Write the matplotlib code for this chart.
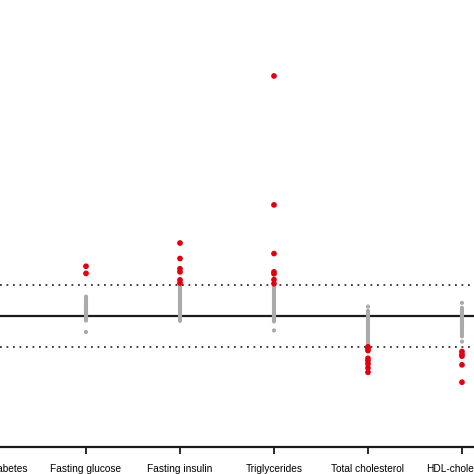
import matplotlib
matplotlib.use("Agg")
import matplotlib.pyplot as plt

plt.rcParams['font.family'] = ['Liberation Sans', 'DejaVu Sans']

# --- data (z-like units: 0 = reference, +/-1 = limits) ---
categories = ["Type 2 diabetes", "Fasting glucose", "Fasting insulin",
              "Triglycerides", "Total cholesterol", "HDL-cholesterol"]

glucose_grey = [0.62, 0.59, 0.55, 0.53, 0.49, 0.45, 0.43, 0.40, 0.36, 0.33, 0.31,
                0.27, 0.24, 0.22, 0.18, 0.15, 0.12, 0.10, 0.06, 0.03, 0.01,
                -0.03, -0.06, -0.09, -0.12, -0.15, -0.52]
glucose_red = [1.60, 1.37]

insulin_grey = [1.00, 0.96, 0.92, 0.88, 0.85, 0.81, 0.77, 0.73, 0.70, 0.66, 0.62,
                0.58, 0.55, 0.51, 0.47, 0.43, 0.40, 0.36, 0.32, 0.28, 0.25,
                0.21, 0.17, 0.13, 0.10, 0.06, 0.02, -0.02, -0.06, -0.10, -0.16]
insulin_red = [2.35, 1.85, 1.52, 1.42, 1.16, 1.06]

trig_grey = [0.94, 0.90, 0.86, 0.82, 0.78, 0.74, 0.70, 0.66, 0.62, 0.58, 0.54,
             0.50, 0.46, 0.42, 0.38, 0.34, 0.30, 0.26, 0.22, 0.18, 0.14,
             0.10, 0.06, 0.02, -0.02, -0.06, -0.10, -0.14, -0.18, -0.47]
trig_red = [7.74, 3.58, 2.01, 1.42, 1.36, 1.17, 1.04]

chol_grey = [0.30, 0.16, 0.12, 0.08, 0.04, 0.00, -0.04, -0.08, -0.12, -0.16,
             -0.20, -0.24, -0.28, -0.32, -0.36, -0.40, -0.44, -0.48, -0.52,
             -0.56, -0.60, -0.64, -0.68, -0.72, -0.76, -0.80, -0.85, -0.90, -0.94]
chol_red = [-1.00, -1.06, -1.12, -1.37, -1.45, -1.55, -1.68, -1.82]

hdl_grey = [0.42, 0.26, 0.22, 0.18, 0.14, 0.10, 0.06, 0.02, -0.02, -0.06,
            -0.10, -0.14, -0.18, -0.22, -0.26, -0.30, -0.34, -0.38, -0.42,
            -0.46, -0.50, -0.54, -0.62, -0.66, -0.83]
hdl_red = [-1.15, -1.24, -1.30, -1.58, -2.14]

grey_sets = [[], glucose_grey, insulin_grey, trig_grey, chol_grey, hdl_grey]
red_sets = [[], glucose_red, insulin_red, trig_red, chol_red, hdl_red]

fig = plt.figure(figsize=(4.74, 4.74), dpi=100)
ax = fig.add_axes([0, 27 / 474, 1, 447 / 474])

ax.axhline(0, color="#1a1a1a", linewidth=1.6, zorder=1)
for lim in (1, -1):
    ax.axhline(lim, color="#333333", linewidth=1.3, linestyle=(0, (1, 2.6)), zorder=1)

for i, (g, r) in enumerate(zip(grey_sets, red_sets)):
    ax.scatter([i] * len(g), g, s=9, color="#aaaaaa", edgecolors="none", zorder=2)
    ax.scatter([i] * len(r), r, s=17, color="#e2000f", edgecolors="none", zorder=3)

ax.set_xticks(range(1, len(categories)))
ax.set_xticklabels(categories[1:], fontsize=7.3)
# set limits after the ticks, otherwise set_xticks widens the view
ax.set_xlim(0.085, 5.128)
ax.set_ylim(-4.23, 10.19)
ax.tick_params(axis="x", length=5, width=1.3, pad=7, direction="out", color="#1a1a1a")
ax.set_yticks([])

# first category sits just left of the visible area, only its label shows
ax.annotate(categories[0], xy=(0, 0), xycoords=("data", "axes fraction"),
            xytext=(0, -12), textcoords="offset points",
            ha="center", va="top", fontsize=7.3, annotation_clip=False)

for side in ("top", "left", "right"):
    ax.spines[side].set_visible(False)
ax.spines["bottom"].set_linewidth(1.6)
ax.spines["bottom"].set_color("#1a1a1a")

fig.savefig("out.png", dpi=100)
